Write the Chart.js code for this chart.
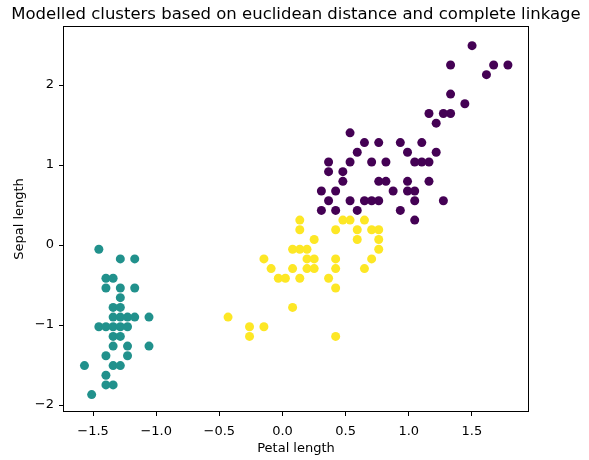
<!DOCTYPE html>
<html>
<head>
<meta charset="utf-8">
<script src="https://cdn.jsdelivr.net/npm/chart.js@4"></script>
<style>
  html, body { margin: 0; padding: 0; background: #fff; }
  canvas { display: block; }
</style>
</head>
<body>
<canvas id="chart" width="589" height="460" style="width:589px;height:460px"></canvas>
<script>
// standardized petal length (x) / sepal length (y), one pair of arrays per cluster
var purpleX = [0.535, 0.421, 0.649, 0.478, 0.535, 0.478, 0.365, 0.421, 0.649, 0.308, 0.365, 0.592, 0.706, 0.535, 0.365, 0.308,
               1.274, 1.217, 1.047, 1.160, 1.615, 1.444, 1.160, 1.331, 0.762, 0.876, 0.990, 0.990, 1.672, 1.785, 1.103, 1.103,
               1.274, 0.592, 1.047, 1.160, 1.331, 1.501, 0.762, 1.047, 1.331, 0.990, 0.933, 1.047, 0.762, 1.217, 0.819, 0.706,
               0.819, 0.933];
var purpleY = [1.402, 0.675, 1.280, 0.796, 0.553, 0.917, 1.038, 0.432, 0.553, 0.675, 0.917, 1.159, 1.038, 1.038, 0.553, 0.432,
               0.553, 1.523, 0.553, 0.796, 2.129, 1.765, 1.038, 1.644, 0.796, 0.675, 1.159, 0.796, 2.250, 2.250, 1.280, 1.038,
               1.644, 0.432, 0.675, 1.644, 1.886, 2.492, 0.553, 0.311, 2.250, 0.675, 1.280, 1.038, 1.280, 1.159, 1.038, 0.553,
               0.796, 0.432];

var tealX = [-1.568, -1.511, -1.454, -1.454,
             -1.398, -1.398, -1.398, -1.398, -1.398, -1.398,
             -1.341, -1.341, -1.341, -1.341, -1.341, -1.341, -1.341, -1.341,
             -1.284, -1.284, -1.284, -1.284, -1.284, -1.284, -1.284, -1.284,
             -1.227, -1.227, -1.227, -1.227,
             -1.170, -1.170, -1.170,
             -1.057, -1.057];
var tealY = [-1.507, -1.870, -0.053, -1.022,
             -1.385, -0.537, -0.416, -1.749, -1.022, -1.628,
             -0.901, -1.143, -1.022, -1.507, -1.749, -1.264, -0.780, -0.416,
             -1.507, -1.022, -1.143, -0.537, -0.174, -0.901, -0.780, -0.658,
             -1.264, -1.022, -1.385, -0.901,
             -0.537, -0.174, -0.901,
             -1.264, -0.901];

var yellowX = [0.137, 0.478, 0.535, 0.649, 0.137, 0.421, 0.592, 0.706, 0.762, 0.251, 0.592, 0.762, 0.080, 0.137, 0.194, 0.762,
               -0.147, 0.194, 0.251, 0.421, 0.706, -0.090, 0.080, 0.194, 0.251, 0.421, 0.649, -0.033, 0.023, 0.137, 0.365,
               0.421, 0.080, -0.431, -0.261, -0.147, -0.261, 0.421];
var yellowY = [0.311, 0.311, 0.311, 0.311, 0.190, 0.190, 0.190, 0.190, 0.190, 0.069, 0.069, 0.069, -0.053, -0.053, -0.053, -0.053,
               -0.174, -0.174, -0.174, -0.174, -0.174, -0.295, -0.295, -0.295, -0.295, -0.295, -0.295, -0.416, -0.416, -0.416, -0.416,
               -0.537, -0.780, -0.901, -1.022, -1.022, -1.143, -1.143];

var xTicks = [-1.5, -1.0, -0.5, 0.0, 0.5, 1.0, 1.5];
var yTicks = [-2, -1, 0, 1, 2];
var titleText = 'Modelled clusters based on euclidean distance and complete linkage';

function pts(xs, ys) {
    return xs.map(function(x, i) { return {x: x, y: ys[i]}; });
}
function minus(s) { return s.replace('-', '\u2212'); }

var font = "'DejaVu Sans', sans-serif";

// box around the plot like matplotlib spines, plus the title centred on the axes
var frame = {
    id: 'frame',
    afterDraw: function(chart) {
        var a = chart.chartArea, ctx = chart.ctx;
        ctx.save();
        ctx.strokeStyle = '#000';
        ctx.lineWidth = 1;
        ctx.strokeRect(Math.round(a.left) - 0.5, Math.round(a.top) - 0.5,
                       Math.round(a.right - a.left) + 1, Math.round(a.bottom - a.top) + 1);
        ctx.fillStyle = '#000';
        ctx.font = '16.5px ' + font;
        ctx.textAlign = 'center';
        ctx.textBaseline = 'alphabetic';
        ctx.fillText(titleText, (a.left + a.right) / 2, 19);
        ctx.restore();
    }
};

new Chart(document.getElementById('chart'), {
    type: 'scatter',
    data: {
        datasets: [
            { data: pts(purpleX, purpleY), backgroundColor: '#440154' },
            { data: pts(tealX, tealY), backgroundColor: '#21918c' },
            { data: pts(yellowX, yellowY), backgroundColor: '#fde725' }
        ]
    },
    options: {
        responsive: false,
        animation: false,
        devicePixelRatio: 1,
        layout: { padding: { left: 0, right: 61, top: 27, bottom: 0 } },
        elements: { point: { radius: 4.5, hoverRadius: 4.5, borderWidth: 0 } },
        plugins: {
            legend: { display: false },
            tooltip: { enabled: false },
            title: { display: false }
        },
        scales: {
            x: {
                type: 'linear',
                min: -1.73,
                max: 1.944,
                afterBuildTicks: function(s) { s.ticks = xTicks.map(function(v) { return {value: v}; }); },
                afterFit: function(s) { s.height = 49; },
                grid: { drawOnChartArea: false, drawTicks: true, tickLength: 5, color: '#000' },
                border: { display: false },
                ticks: {
                    color: '#000', padding: 8,
                    font: { family: font, size: 13 },
                    callback: function(v) { return minus(v.toFixed(1)); }
                },
                title: {
                    display: true, text: 'Petal length', color: '#000',
                    font: { family: font, size: 13 }, padding: { top: 0, bottom: 4 }
                }
            },
            y: {
                type: 'linear',
                min: -2.075,
                max: 2.725,
                afterBuildTicks: function(s) { s.ticks = yTicks.map(function(v) { return {value: v}; }); },
                afterFit: function(s) { s.width = 64; },
                grid: { drawOnChartArea: false, drawTicks: true, tickLength: 5, color: '#000' },
                border: { display: false },
                ticks: {
                    color: '#000', padding: 5,
                    font: { family: font, size: 13 },
                    callback: function(v) { return minus(String(v)); }
                },
                title: {
                    display: true, text: 'Sepal length', color: '#000',
                    font: { family: font, size: 13 }, padding: { top: 12, bottom: 0 }
                }
            }
        }
    },
    plugins: [frame]
});
</script>
</body>
</html>
